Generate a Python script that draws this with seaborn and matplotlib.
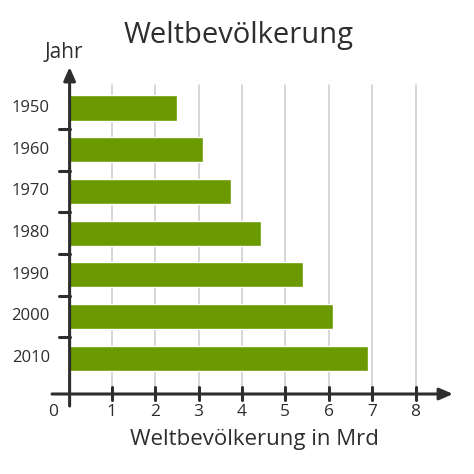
import pandas as pd
import matplotlib
matplotlib.use("Agg")
import matplotlib.pyplot as plt
import seaborn as sns

years = ["1950", "1960", "1970", "1980", "1990", "2000", "2010"]
population = [2.5, 3.1, 3.75, 4.45, 5.4, 6.1, 6.9]
x_ticks = [1, 2, 3, 4, 5, 6, 7, 8]

df = pd.DataFrame({"Jahr": years, "Mrd": population})

sns.set_style("white")
plt.rcParams["font.family"] = ["Open Sans", "DejaVu Sans"]
dark = "#2e2e2e"

fig = plt.figure(figsize=(4.74, 4.74), dpi=100)
ax = fig.add_axes([0, 0, 1, 1])

# pixel layout -> data: 43.4 px per unit, origin at px 68.3; rows 41.7 px apart, first at px 108
px_unit, x0 = 43.4, 68.3
py_unit, y0 = 41.7, 108
ax.set_xlim(-x0 / px_unit, (474 - x0) / px_unit)

sns.barplot(data=df, x="Mrd", y="Jahr", orient="h", color="#6a9900",
            width=0.6, saturation=1, ax=ax, zorder=3)
ax.set_ylim((474 - y0) / py_unit, -y0 / py_unit)
ax.axis("off")

def dy(p):
    return (p - y0) / py_unit

def dx(p):
    return (p - x0) / px_unit

axis_y = dy(394)

# vertical grid lines
for t in x_ticks:
    ax.plot([t, t], [dy(85), axis_y], color="#cccccc", lw=1.1, zorder=1)

# x axis with arrow
ax.annotate("", xy=(dx(453), axis_y), xytext=(dx(52), axis_y),
            arrowprops=dict(arrowstyle="-|>,head_length=0.8,head_width=0.35",
                            color=dark, lw=2.2, shrinkA=0, shrinkB=0), zorder=4)
# y axis with arrow
ax.annotate("", xy=(0.03, dy(67)), xytext=(0.03, dy(406)),
            arrowprops=dict(arrowstyle="-|>,head_length=0.8,head_width=0.35",
                            color=dark, lw=2.2, shrinkA=0, shrinkB=0), zorder=4)

# x ticks and labels
for t in x_ticks:
    ax.plot([t, t], [dy(387), dy(400)], color=dark, lw=2.2, zorder=4)
    ax.text(t, dy(412), str(t), ha="center", va="center", fontsize=12.5, color=dark)
ax.text(dx(53), dy(412), "0", ha="center", va="center", fontsize=12.5, color=dark)

# y ticks between bars and year labels
for i, yr in enumerate(years):
    if i < len(years) - 1:
        ax.plot([dx(59), 0.03], [i + 0.5, i + 0.5], color=dark, lw=2.2, zorder=4)
    ax.text(dx(50), i, yr, ha="right", va="center", fontsize=12, color=dark)

ax.text(dx(64), dy(52), "Jahr", ha="center", va="center", fontsize=15, color=dark)
fig.text(239 / 474, 1 - 35 / 474, "Weltbevölkerung", ha="center", va="center",
         fontsize=21, color=dark)
fig.text(254 / 474, 1 - 440 / 474, "Weltbevölkerung in Mrd", ha="center",
         va="center", fontsize=16, color=dark)

fig.savefig("out.png", dpi=100, facecolor="white")
